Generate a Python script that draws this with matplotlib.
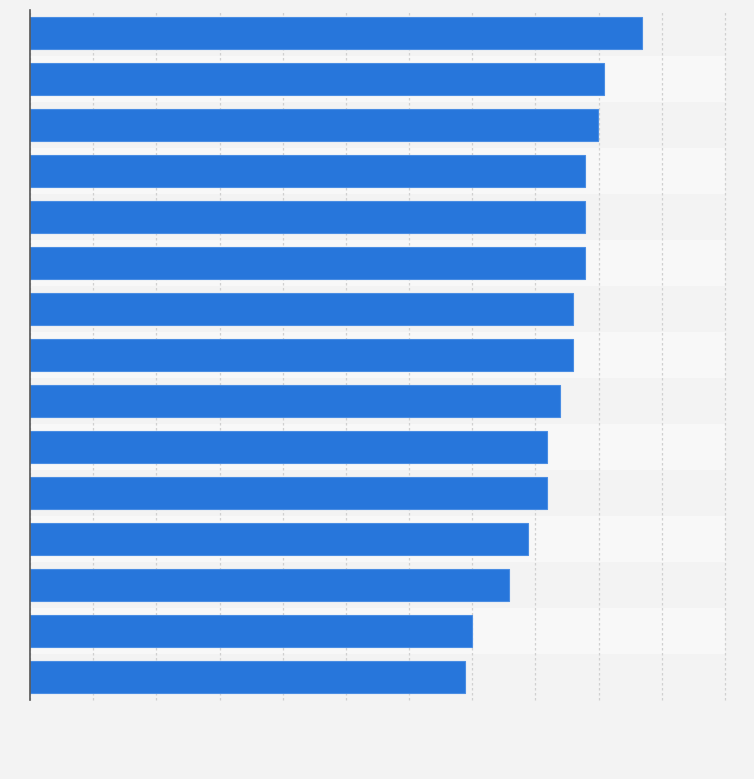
import numpy as np
import matplotlib.pyplot as plt

values = [96.9, 90.8, 89.9, 87.8, 87.8, 87.8, 85.9, 85.9, 83.9, 81.8, 81.8, 78.8, 75.8, 70.0, 68.8]
x_ticks = list(range(0, 111, 10))

bg = '#f3f3f3'
fig = plt.figure(figsize=(7.54, 7.79), dpi=100, facecolor=bg)
ax = fig.add_axes([30/754, 1-700/779, 695/754, 690/779])
ax.set_facecolor(bg)

n = len(values)
pos = np.arange(n)

# alternating row bands
for i in pos:
    if i % 2 == 1:
        ax.axhspan(i-0.5, i+0.5, color='#f8f8f8', zorder=0, lw=0)

ax.barh(pos, values, height=0.7, color='#2776db', edgecolor='#4a8de3', linewidth=0.8, zorder=3)

ax.set_xlim(0, 110)
ax.set_ylim(n-0.5, -0.5)
ax.set_xticks(x_ticks)
ax.set_yticks([])
ax.tick_params(axis='x', length=0, labelbottom=False)
ax.grid(axis='x', color='#d0d0d0', linestyle=(0, (2, 2)), linewidth=0.9, zorder=1)
for gl in ax.get_xgridlines():
    gl.set_clip_on(False)

for s in ['top', 'right', 'bottom']:
    ax.spines[s].set_visible(False)
ax.spines['left'].set_color('#555555')
ax.spines['left'].set_linewidth(1.2)
ax.spines['left'].set_zorder(4)

fig.savefig('out.png', dpi=100, facecolor=bg)
